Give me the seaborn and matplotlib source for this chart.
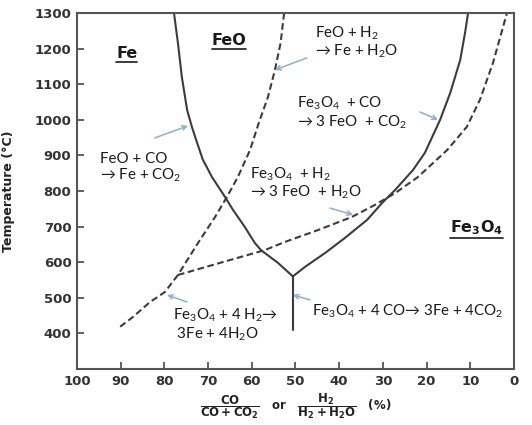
"""
Baur-Glaessner style diagram: Fe / FeO / Fe3O4 stability in CO and H2 gas
"""
import numpy as np
import pandas as pd
import matplotlib
matplotlib.use('Agg')
import matplotlib.pyplot as plt
import seaborn as sns

# boundary lines
# x = CO/(CO+CO2) or H2/(H2+H2O) in %, t = temperature in degrees C
co_fe_feo_x = [77.8, 76.9, 76.0, 74.8, 73.7, 72.5, 71.2, 69.1, 66.1, 64.3, 61.6, 59.3, 57.9, 54.0, 50.6]
co_fe_feo_t = [1300, 1216, 1120, 1028, 980, 935, 888, 839, 783, 747, 699, 654, 634, 598, 560]

co_fe3o4_feo_x = [50.6, 47.8, 43.2, 38.7, 33.6, 30.2, 27.2, 23.1, 20.4, 16.9, 14.6, 12.3, 11.2, 10.5]
co_fe3o4_feo_t = [560, 587, 626, 668, 719, 766, 803, 859, 907, 1000, 1075, 1168, 1244, 1300]

co_fe3o4_fe_x = [50.6, 50.6]
co_fe3o4_fe_t = [560, 410]

h2_fe_feo_x = [52.6, 53.4, 54.7, 56.3, 58.4, 60.4, 63.2, 65.7, 68.4, 72.3, 76.9]
h2_fe_feo_t = [1300, 1216, 1140, 1064, 991, 915, 839, 783, 727, 654, 564]

h2_fe3o4_feo_x = [76.9, 67.3, 57.0, 52.4, 44.9, 37.1, 31.8, 27.2, 22.0, 15.3, 10.8, 7.8, 4.8, 1.6]
h2_fe3o4_feo_t = [564, 598, 634, 657, 690, 727, 761, 794, 839, 915, 980, 1056, 1160, 1300]

h2_fe3o4_fe_x = [76.9, 79.9, 83.3, 87.2, 90.2]
h2_fe3o4_fe_t = [564, 516, 488, 446, 418]

x_ticks = [100, 90, 80, 70, 60, 50, 40, 30, 20, 10, 0]
y_ticks = [400, 500, 600, 700, 800, 900, 1000, 1100, 1200, 1300]

# region names and reaction labels
phase_labels = [('Fe', 88.6, 1185), ('FeO', 65.2, 1224), (r'$\mathbf{Fe_3O_4}$', 8.5, 696)]
reaction_labels = [
    ('FeO + CO\n→ Fe + CO$_2$', 94.7, 865),
    ('FeO + H$_2$\n→ Fe + H$_2$O', 45.5, 1218),
    ('Fe$_3$O$_4$  + CO\n→ 3 FeO  + CO$_2$', 49.7, 1019),
    ('Fe$_3$O$_4$  + H$_2$\n→ 3 FeO  + H$_2$O', 60.4, 822),
    ('Fe$_3$O$_4$ + 4 H$_2$→\n 3Fe + 4H$_2$O', 78.0, 424),
    ('Fe$_3$O$_4$ + 4 CO→ 3Fe + 4CO$_2$', 46.2, 463),
]
# arrows: (tail x, tail t, head x, head t)
pointers = [
    (82.2, 949, 74.6, 983),
    (47.4, 1174, 54.7, 1140),
    (21.5, 1022, 17.4, 1000),
    (42.1, 752, 36.8, 733),
    (74.8, 488, 79.4, 508),
    (46.7, 494, 50.6, 508),
]

sns.set_style('ticks')
plt.rcParams['font.family'] = ['DejaVu Sans']
plt.rcParams['mathtext.fontset'] = 'custom'
plt.rcParams['mathtext.rm'] = 'Lato'
plt.rcParams['mathtext.it'] = 'Lato:italic'
plt.rcParams['mathtext.bf'] = 'Lato:bold'

line_col = '#3c3c3c'
axis_col = '#555555'
arrow_col = '#8eaed0'

fig = plt.figure(figsize=(5.32, 4.25), dpi=100)
ax = fig.add_axes([0.1447, 0.1318, 0.8214, 0.8376])

curves = [
    (co_fe_feo_x, co_fe_feo_t, '-'),
    (co_fe3o4_feo_x, co_fe3o4_feo_t, '-'),
    (co_fe3o4_fe_x, co_fe3o4_fe_t, '-'),
    (h2_fe_feo_x, h2_fe_feo_t, (0, (3.2, 1.7))),
    (h2_fe3o4_feo_x, h2_fe3o4_feo_t, (0, (3.2, 1.7))),
    (h2_fe3o4_fe_x, h2_fe3o4_fe_t, (0, (3.2, 1.7))),
]
for xs, ts, ls in curves:
    df = pd.DataFrame({'x': xs, 't': ts})
    sns.lineplot(data=df, x='x', y='t', sort=False, estimator=None,
                 color=line_col, linewidth=1.5, linestyle=ls, ax=ax)

ax.set_xlim(100, 0)
ax.set_ylim(300, 1300)
ax.set_xticks(x_ticks)
ax.set_yticks(y_ticks)
ax.tick_params(direction='in', length=5, width=1.3, color=axis_col,
               labelsize=9.5, pad=4)
for lab in ax.get_xticklabels() + ax.get_yticklabels():
    lab.set_fontweight('bold')
    lab.set_color('#333333')
for side in ['left', 'right', 'top', 'bottom']:
    ax.spines[side].set_visible(True)
    ax.spines[side].set_color(axis_col)
    ax.spines[side].set_linewidth(1.5)

ax.set_ylabel('Temperature (°C)', fontsize=9, fontweight='bold', color='#222222')
ax.yaxis.set_label_coords(-0.142, 0.5)

ax.set_xlabel(r'$\mathbf{\dfrac{CO}{CO+CO_2}}$   or   $\mathbf{\dfrac{H_2}{H_2+H_2O}}$   (%)',
              fontsize=8.5, fontweight='bold', color='#222222')
ax.xaxis.label.set_math_fontfamily('dejavusans')
ax.xaxis.label.set_va('center')
ax.xaxis.set_label_coords(0.5, -0.104)

phase_texts = []
for name, x, t in phase_labels:
    txt = ax.text(x, t, name, fontsize=11.5, fontweight='bold', ha='center', va='center',
                  color='#1a1a1a', math_fontfamily='dejavusans')
    phase_texts.append(txt)

for label, x, t in reaction_labels:
    ax.text(x, t, label, fontsize=10.8, family=['Lato', 'DejaVu Sans'], ha='left', va='center',
            color='#1a1a1a', linespacing=1.1)

for x0, t0, x1, t1 in pointers:
    ax.annotate('', xy=(x1, t1), xytext=(x0, t0),
                arrowprops=dict(arrowstyle='->', color=arrow_col, lw=1.1, mutation_scale=8,
                                shrinkA=0, shrinkB=0))

# underline the phase names
fig.canvas.draw()
renderer = fig.canvas.get_renderer()
inv = fig.transFigure.inverted()
for txt in phase_texts:
    bb = txt.get_window_extent(renderer)
    (fx0, fy0), (fx1, _) = inv.transform([(bb.x0, bb.y0 - 1), (bb.x1, bb.y0)])
    fig.add_artist(plt.Line2D([fx0, fx1], [fy0, fy0], transform=fig.transFigure,
                              color='#1a1a1a', linewidth=1.2))

fig.savefig('out.png', dpi=100)
